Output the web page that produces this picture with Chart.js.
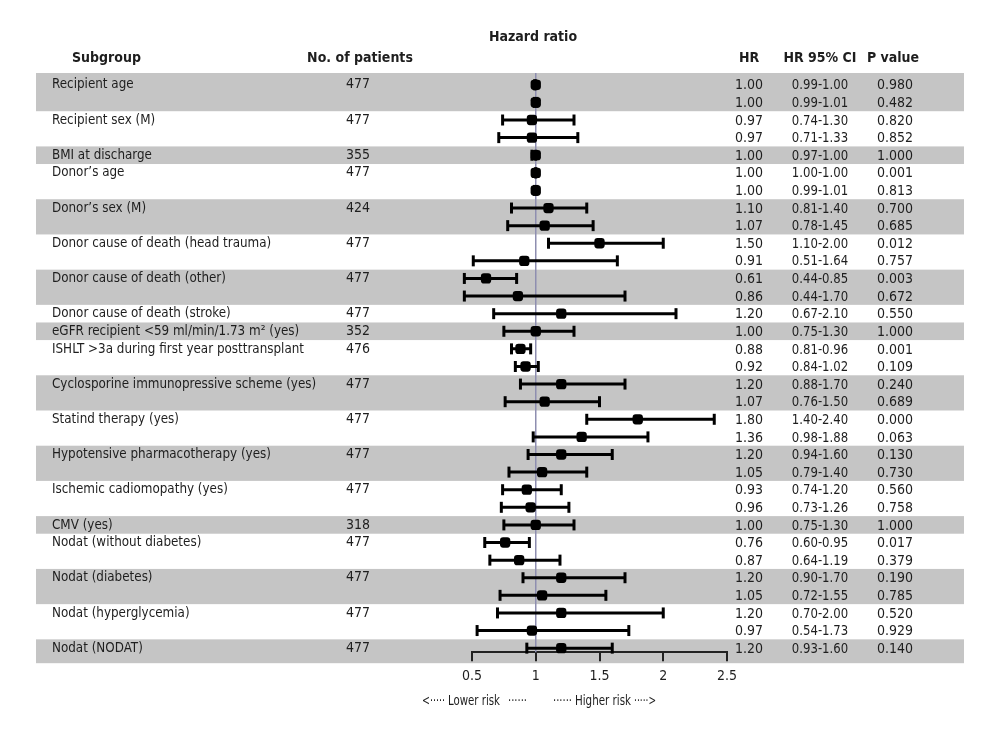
<!DOCTYPE html>
<html>
<head>
<meta charset="utf-8">
<script src="https://cdn.jsdelivr.net/npm/chart.js@4.4.1/dist/chart.umd.min.js"></script>
<style>
  html, body { margin: 0; padding: 0; background: #fff; }
  #forest { display: block; }
</style>
</head>
<body>
<canvas id="forest" width="1000" height="738"></canvas>
<script>
// groups: label, patients, number of rows
const subgroups = [
    'Recipient age', 'Recipient sex (M)', 'BMI at discharge', 'Donor\u2019s age', 'Donor\u2019s sex (M)',
    'Donor cause of death (head trauma)', 'Donor cause of death (other)', 'Donor cause of death (stroke)',
    'eGFR recipient <59 ml/min/1.73 m\u00B2 (yes)', 'ISHLT >3a during first year posttransplant',
    'Cyclosporine immunopressive scheme (yes)', 'Statind therapy (yes)', 'Hypotensive pharmacotherapy (yes)',
    'Ischemic cadiomopathy (yes)', 'CMV (yes)', 'Nodat (without diabetes)', 'Nodat (diabetes)',
    'Nodat (hyperglycemia)', 'Nodat (NODAT)'
];
const patients = [477, 477, 355, 477, 424, 477, 477, 477, 352, 476, 477, 477, 477, 477, 318, 477, 477, 477, 477];
const groupRows = [2, 2, 1, 2, 2, 2, 2, 1, 1, 2, 2, 2, 2, 2, 1, 2, 2, 2, 1];

// one entry per row
const hr = [1.00, 1.00, 0.97, 0.97, 1.00, 1.00, 1.00, 1.10, 1.07, 1.50, 0.91, 0.61, 0.86, 1.20, 1.00,
    0.88, 0.92, 1.20, 1.07, 1.80, 1.36, 1.20, 1.05, 0.93, 0.96, 1.00, 0.76, 0.87, 1.20, 1.05, 1.20, 0.97, 1.20];
const ciLow = [0.99, 0.99, 0.74, 0.71, 0.97, 1.00, 0.99, 0.81, 0.78, 1.10, 0.51, 0.44, 0.44, 0.67, 0.75,
    0.81, 0.84, 0.88, 0.76, 1.40, 0.98, 0.94, 0.79, 0.74, 0.73, 0.75, 0.60, 0.64, 0.90, 0.72, 0.70, 0.54, 0.93];
const ciHigh = [1.00, 1.01, 1.30, 1.33, 1.00, 1.00, 1.01, 1.40, 1.45, 2.00, 1.64, 0.85, 1.70, 2.10, 1.30,
    0.96, 1.02, 1.70, 1.50, 2.40, 1.88, 1.60, 1.40, 1.20, 1.26, 1.30, 0.95, 1.19, 1.70, 1.55, 2.00, 1.73, 1.60];
const pValues = [0.980, 0.482, 0.820, 0.852, 1.000, 0.001, 0.813, 0.700, 0.685, 0.012, 0.757, 0.003, 0.672,
    0.550, 1.000, 0.001, 0.109, 0.240, 0.689, 0.000, 0.063, 0.130, 0.730, 0.560, 0.758, 1.000, 0.017, 0.379,
    0.190, 0.785, 0.520, 0.929, 0.140];
const xTicks = [0.5, 1, 1.5, 2, 2.5];

const FONT = "'Liberation Sans Narrow', 'DejaVu Sans Condensed', 'Roboto Condensed', sans-serif";
const TEXT = '#1e1e1e';
const BAND = '#c5c5c5';

const groupStart = [];
let r = 0;
groupRows.forEach(n => { groupStart.push(r); r += n; });

const markerPts = hr.map((v, i) => ({ x: v, y: i }));
const capPts = [];
const whiskerPts = [];
hr.forEach((v, i) => {
    capPts.push({ x: ciLow[i], y: i }, { x: ciHigh[i], y: i });
    whiskerPts.push({ x: ciLow[i], y: i }, { x: ciHigh[i], y: i }, { x: NaN, y: NaN });
});

// squeeze text a little horizontally
function squeezed(ctx, text, x, y, k) {
    ctx.fillText(text, x, y, ctx.measureText(text).width * k);
}

const tablePlugin = {
    id: 'table',
    beforeDraw(chart) {
        const ctx = chart.ctx;
        const y = chart.scales.y;
        ctx.save();
        ctx.fillStyle = BAND;
        groupStart.forEach((s, g) => {
            if (g % 2 !== 0) return;
            let top = y.getPixelForValue(s - 0.5);
            let bottom = y.getPixelForValue(s + groupRows[g] - 0.5);
            if (g === 0) top -= 3;
            if (g === groupStart.length - 1) bottom = chart.chartArea.bottom + 11;
            ctx.fillRect(36, top, 964 - 36, bottom - top);
        });
        ctx.restore();
    },
    afterDatasetsDraw(chart) {
        const ctx = chart.ctx;
        const y = chart.scales.y;
        ctx.save();
        ctx.fillStyle = TEXT;
        ctx.textBaseline = 'middle';

        ctx.font = 'bold 14px ' + FONT;
        ctx.textAlign = 'center';
        ctx.fillText('Hazard ratio', 533, 37);
        ctx.textAlign = 'left';
        ctx.fillText('Subgroup', 72, 58);
        ctx.textAlign = 'center';
        ctx.fillText('No. of patients', 360, 58);
        ctx.fillText('HR', 749, 58);
        ctx.fillText('HR 95% CI', 820, 58);
        ctx.fillText('P value', 893, 58);

        ctx.font = '14px ' + FONT;
        subgroups.forEach((name, g) => {
            const py = y.getPixelForValue(groupStart[g]);
            ctx.textAlign = 'left';
            squeezed(ctx, name, 52, py, 0.95);
            ctx.textAlign = 'center';
            ctx.fillText(String(patients[g]), 358, py);
        });
        ctx.textAlign = 'center';
        hr.forEach((v, i) => {
            const py = y.getPixelForValue(i) + 1;
            ctx.fillText(v.toFixed(2), 749, py);
            squeezed(ctx, ciLow[i].toFixed(2) + '-' + ciHigh[i].toFixed(2), 820, py, 0.93);
            ctx.fillText(pValues[i].toFixed(3), 895, py);
        });

        // risk direction labels under the axis
        ctx.textAlign = 'left';
        ctx.fillText('<\u00B7\u00B7\u00B7\u00B7\u00B7', 422, 701, 23);
        ctx.fillText('Lower risk', 448, 701, 52);
        ctx.fillText('\u00B7\u00B7\u00B7\u00B7\u00B7\u00B7', 508, 701, 19);
        ctx.fillText('\u00B7\u00B7\u00B7\u00B7\u00B7\u00B7', 553, 701, 19);
        ctx.fillText('Higher risk', 575, 701, 56);
        ctx.fillText('\u00B7\u00B7\u00B7\u00B7\u00B7>', 634, 701, 22);
        ctx.restore();
    }
};

new Chart(document.getElementById('forest'), {
    type: 'scatter',
    data: {
        datasets: [
            {
                label: 'HR',
                data: markerPts,
                pointStyle: 'rectRounded',
                pointRadius: 6,
                backgroundColor: '#000',
                borderColor: '#000',
                borderWidth: 0,
                clip: false,
                order: 0
            },
            {
                label: 'caps',
                data: capPts,
                pointStyle: 'line',
                rotation: 90,
                pointRadius: 5.5,
                borderColor: '#000',
                borderWidth: 3,
                clip: false,
                order: 1
            },
            {
                label: 'CI',
                data: whiskerPts,
                showLine: true,
                spanGaps: false,
                pointRadius: 0,
                borderColor: '#000',
                borderWidth: 3,
                clip: false,
                order: 2
            },
            {
                label: 'ref',
                data: [{ x: 1, y: -0.67 }, { x: 1, y: 32.23 }],
                showLine: true,
                pointRadius: 0,
                borderColor: '#8e8eb0',
                borderWidth: 1.5,
                clip: false,
                order: 3
            }
        ]
    },
    options: {
        responsive: false,
        animation: false,
        layout: { padding: { left: 472, right: 273, top: 76, bottom: 46 } },
        plugins: {
            legend: { display: false },
            tooltip: { enabled: false }
        },
        scales: {
            x: {
                type: 'linear',
                min: 0.5,
                max: 2.5,
                afterBuildTicks: axis => { axis.ticks = xTicks.map(v => ({ value: v })); },
                grid: {
                    drawOnChartArea: false,
                    drawTicks: true,
                    tickLength: 9,
                    color: '#222',
                    lineWidth: 2
                },
                border: { display: true, color: '#222', width: 2 },
                ticks: {
                    padding: 7,
                    color: TEXT,
                    font: { family: FONT, size: 14 },
                    callback: v => String(v)
                }
            },
            y: {
                type: 'linear',
                reverse: true,
                min: -0.5,
                max: 32.23,
                display: false
            }
        }
    },
    plugins: [tablePlugin]
});
</script>
</body>
</html>
